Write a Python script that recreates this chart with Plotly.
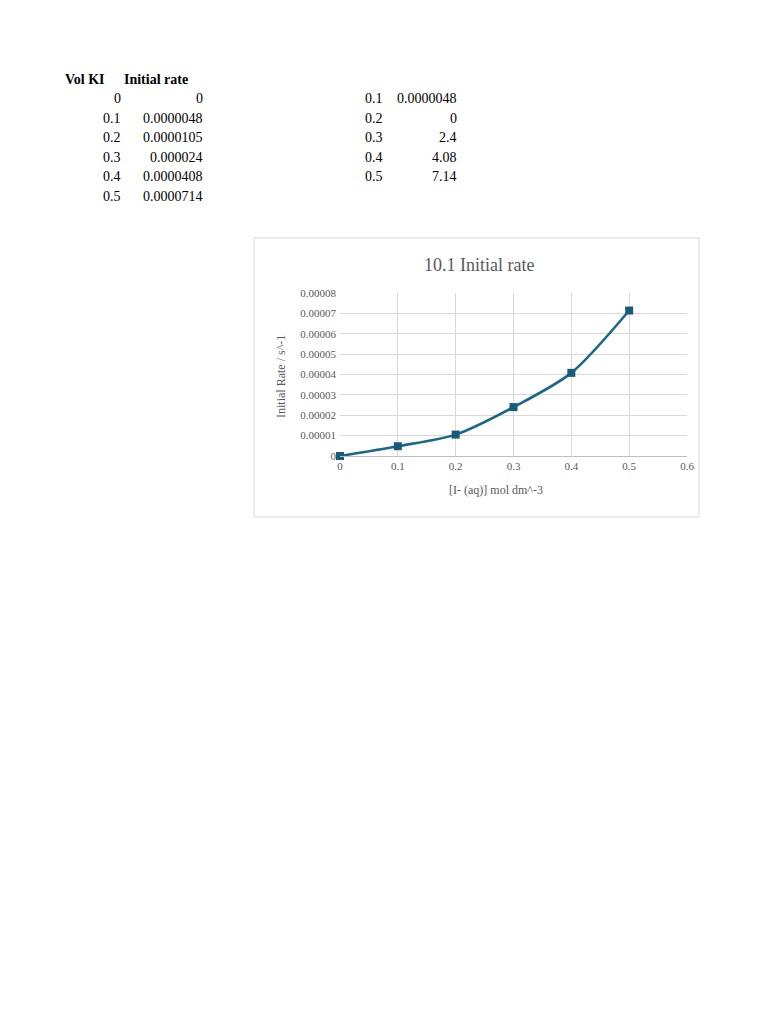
import plotly.graph_objects as go

# ---- data ----
vol_ki = [0, 0.1, 0.2, 0.3, 0.4, 0.5]
initial_rate = [0, 0.0000048, 0.0000105, 0.000024, 0.0000408, 0.0000714]
side_x = [0.1, 0.2, 0.3, 0.4, 0.5]
side_y = [0.0000048, 0, 2.4, 4.08, 7.14]
y_tickvals = [0, 0.00001, 0.00002, 0.00003, 0.00004, 0.00005, 0.00006, 0.00007, 0.00008]
y_ticktext = ["0", "0.00001", "0.00002", "0.00003", "0.00004", "0.00005", "0.00006", "0.00007", "0.00008"]
x_tickvals = [0, 0.1, 0.2, 0.3, 0.4, 0.5, 0.6]
x_ticktext = ["0", "0.1", "0.2", "0.3", "0.4", "0.5", "0.6"]

OFF = 8  # page body margin
W, H = 768 - OFF, 1024 - OFF
PL, PR, PT, PB = 340 - OFF, 687 - OFF, 293 - OFF, 456 - OFF  # plot area in figure pixels


def px(x):
    return (x - OFF - PL) / (PR - PL)


def py(y):
    return (PB - (y - OFF)) / (PB - PT)


def fmt(v):
    s = f"{v:.7f}".rstrip("0").rstrip(".")
    return s if s else "0"


SERIF = "Liberation Serif, Times New Roman, serif"
GRAY = "#595959"
LINE = "#1b6788"

fig = go.Figure()
fig.add_trace(go.Scatter(
    x=vol_ki, y=initial_rate, mode="lines+markers",
    line=dict(color=LINE, width=2.6, shape="spline", smoothing=0.8),
    marker=dict(symbol="square", size=8, color="#175b7c", line=dict(width=0)),
    showlegend=False, cliponaxis=False,
))

ann = []
# table header
ann.append(dict(x=px(63), y=py(79), text="<b>Vol KI</b>", xanchor="left", yanchor="middle"))
ann.append(dict(x=px(122), y=py(79), text="<b>Initial rate</b>", xanchor="left", yanchor="middle"))
row_y0, row_dy = 98.5, 19.5
for i, (a, b) in enumerate(zip(vol_ki, initial_rate)):
    yy = row_y0 + i * row_dy
    ann.append(dict(x=px(123), y=py(yy), text=fmt(a), xanchor="right", yanchor="middle"))
    ann.append(dict(x=px(205), y=py(yy), text=fmt(b), xanchor="right", yanchor="middle"))
for i, (a, b) in enumerate(zip(side_x, side_y)):
    yy = row_y0 + i * row_dy
    ann.append(dict(x=px(385), y=py(yy), text=fmt(a), xanchor="right", yanchor="middle"))
    ann.append(dict(x=px(459), y=py(yy), text=fmt(b), xanchor="right", yanchor="middle"))
for a in ann:
    a.update(xref="paper", yref="paper", showarrow=False,
             font=dict(family=SERIF, size=14, color="black"))

# chart title and axis titles
ann.append(dict(x=px(479), y=py(265), xref="paper", yref="paper", showarrow=False,
                text="10.1 Initial rate", xanchor="center", yanchor="middle",
                font=dict(family=SERIF, size=18, color=GRAY)))
ann.append(dict(x=px(496), y=py(490), xref="paper", yref="paper", showarrow=False,
                text="[I- (aq)] mol dm^-3", xanchor="center", yanchor="middle",
                font=dict(family=SERIF, size=12, color=GRAY)))
ann.append(dict(x=px(281), y=py(377), xref="paper", yref="paper", showarrow=False,
                text="Initial Rate / s^-1", textangle=-90, xanchor="center", yanchor="middle",
                font=dict(family=SERIF, size=12, color=GRAY)))

fig.update_layout(
    width=W, height=H,
    margin=dict(l=PL, r=W - PR, t=PT, b=H - PB, pad=0),
    paper_bgcolor="white", plot_bgcolor="white",
    annotations=ann,
    shapes=[dict(type="rect", xref="paper", yref="paper",
                 x0=px(254), x1=px(699), y0=py(517), y1=py(238),
                 line=dict(color="#d9d9d9", width=1), fillcolor="rgba(0,0,0,0)", layer="below")],
    xaxis=dict(range=[0, 0.6], tickvals=x_tickvals, ticktext=x_ticktext,
               showgrid=True, gridcolor="#d9d9d9", gridwidth=1,
               zeroline=False, showline=True, linecolor="#bfbfbf", mirror=False,
               ticks="", tickfont=dict(family=SERIF, size=11, color=GRAY), fixedrange=True),
    yaxis=dict(range=[0, 0.00008], tickvals=y_tickvals, ticktext=y_ticktext,
               showgrid=True, gridcolor="#d9d9d9", gridwidth=1,
               zeroline=False, showline=False, ticklabelstandoff=3,
               ticks="", tickfont=dict(family=SERIF, size=11, color=GRAY), fixedrange=True),
)

fig.write_html("out.html")
